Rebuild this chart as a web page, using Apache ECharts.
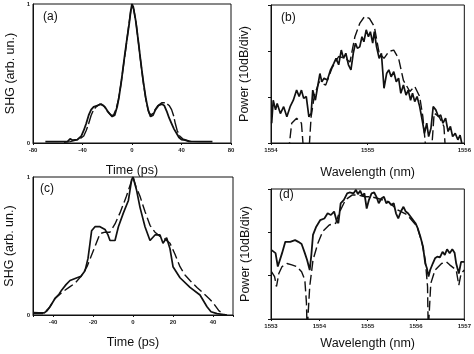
<!DOCTYPE html>
<html>
<head>
<meta charset="utf-8">
<script src="https://cdn.jsdelivr.net/npm/echarts@6/dist/echarts.min.js"></script>
<style>
html,body{margin:0;padding:0;background:#fff}
#main{width:474px;height:354px}
</style>
</head>
<body>
<div id="main"></div>
<script>
// panel (a): SHG autocorrelation, [time ps, SHG]
var aMeasured = [[-70,0.01],[-60,0.01],[-52,0.012],[-50,0.03],[-48,0.02],[-44,0.025],[-41,0.05],[-39,0.09],[-37,0.14],[-35,0.2],[-33,0.24],[-31,0.26],[-28,0.27],[-25,0.28],[-22,0.26],[-19,0.22],[-16,0.19],[-14,0.2],[-12,0.26],[-10.5,0.33],[-8.5,0.45],[-6.5,0.59],[-4.5,0.72],[-2.4,0.85],[-1,0.95],[0,1.0],[1,0.98],[3,0.88],[5,0.74],[7,0.59],[9,0.45],[11,0.33],[13,0.24],[15,0.19],[17,0.2],[19,0.24],[21.5,0.27],[24,0.28],[26,0.27],[28,0.23],[30,0.18],[32,0.14],[34,0.1],[36,0.07],[38,0.04],[40,0.025],[43,0.02],[46,0.012],[55,0.01],[65,0.01]];
var aCalc = [[-55,0.005],[-50,0.01],[-46,0.02],[-42,0.03],[-39,0.05],[-37,0.09],[-35,0.14],[-33,0.2],[-31,0.24],[-29,0.26],[-26,0.28],[-23,0.27],[-20,0.23],[-17,0.2],[-15,0.2],[-13,0.24],[-11,0.31],[-9,0.42],[-7,0.55],[-5,0.68],[-3,0.82],[-1,0.95],[0,0.99],[1.5,0.96],[3.5,0.85],[5.5,0.7],[7.5,0.55],[9.5,0.41],[11.5,0.3],[13.5,0.22],[15.5,0.2],[18,0.23],[21,0.27],[24,0.29],[27,0.29],[30,0.27],[32,0.24],[33.5,0.2],[35,0.14],[36.5,0.09],[38.5,0.05],[41,0.03],[44,0.02],[48,0.01]];

// panel (b): spectrum, [wavelength nm, power dB]
var bMeasured = [[1554.007,4.3],[1554.023,9.3],[1554.047,7.2],[1554.064,8.6],[1554.097,6.4],[1554.131,7.9],[1554.164,5.7],[1554.198,7.9],[1554.231,9.3],[1554.265,11.5],[1554.291,10.1],[1554.315,11.5],[1554.338,9.7],[1554.365,10.1],[1554.392,5.7],[1554.415,6.4],[1554.432,11.5],[1554.459,9.3],[1554.482,12.2],[1554.506,15.1],[1554.526,13.3],[1554.549,14.1],[1554.583,13.7],[1554.616,15.9],[1554.650,17.3],[1554.673,18.4],[1554.700,17.0],[1554.727,20.2],[1554.750,18.4],[1554.774,19.5],[1554.801,17.0],[1554.827,15.9],[1554.851,19.5],[1554.874,21.7],[1554.894,20.6],[1554.918,20.9],[1554.941,23.1],[1554.961,22.0],[1554.985,24.6],[1555.008,23.1],[1555.028,24.2],[1555.052,21.7],[1555.069,24.2],[1555.092,20.9],[1555.119,18.4],[1555.142,19.5],[1555.169,11.9],[1555.196,15.1],[1555.219,15.9],[1555.243,14.4],[1555.270,15.5],[1555.296,13.3],[1555.320,14.1],[1555.343,10.8],[1555.370,12.6],[1555.397,10.4],[1555.420,11.5],[1555.444,9.3],[1555.464,10.8],[1555.487,9.0],[1555.511,10.1],[1555.538,7.9],[1555.564,5.0],[1555.588,2.1],[1555.611,4.3],[1555.631,1.4],[1555.655,3.2],[1555.678,7.9],[1555.705,7.2],[1555.732,5.7],[1555.755,6.1],[1555.779,4.3],[1555.806,5.4],[1555.832,2.5],[1555.856,3.6],[1555.879,1.4],[1555.906,2.1],[1555.933,0.7],[1555.956,1.7],[1555.973,0]];
var bCalc = [[1554.181,-2],[1554.214,4.3],[1554.265,5.4],[1554.315,4.3],[1554.338,-2],[1554.392,-2],[1554.415,5.7],[1554.449,10.4],[1554.499,13.3],[1554.566,12.6],[1554.633,16.4],[1554.700,18.8],[1554.767,18.4],[1554.817,17.6],[1554.868,23.1],[1554.918,26.0],[1554.968,27.5],[1555.018,27.1],[1555.069,25.3],[1555.119,19.5],[1555.169,18.4],[1555.219,19.9],[1555.270,20.2],[1555.320,18.4],[1555.370,13.6],[1555.437,11.2],[1555.487,12.3],[1555.538,10.1],[1555.571,5.7],[1555.605,-2],[1555.660,-2],[1555.688,6.5],[1555.739,5.7],[1555.789,3.6],[1555.806,-2]];

// panel (c)
var cMeasured = [[-50,0.017],[-47,0.015],[-44.5,0.015],[-43,0.03],[-41.5,0.06],[-39,0.12],[-37,0.15],[-35.7,0.18],[-33.5,0.22],[-31.5,0.25],[-28,0.27],[-26,0.28],[-24,0.32],[-22.5,0.41],[-21.5,0.52],[-20.7,0.61],[-19,0.64],[-16.5,0.64],[-14,0.62],[-12.5,0.58],[-11.5,0.54],[-9,0.54],[-7.3,0.64],[-4.8,0.74],[-2.3,0.83],[-0.7,0.98],[0,1.0],[1.7,0.91],[3.5,0.78],[6,0.64],[8.5,0.54],[11,0.58],[13.5,0.58],[15,0.52],[16.8,0.56],[18.5,0.48],[20,0.35],[23.5,0.27],[28.5,0.2],[33.5,0.145],[37,0.06],[39,0.024],[42,0.01],[47,0]];
var cCalc = [[-50,0.01],[-45,0.01],[-42,0.05],[-39,0.12],[-35,0.17],[-32,0.2],[-29,0.23],[-26,0.28],[-23,0.35],[-20,0.46],[-16.5,0.59],[-14,0.6],[-11.5,0.6],[-9,0.66],[-6.5,0.74],[-3.3,0.86],[-1,0.96],[0,1.0],[1.5,0.93],[3.5,0.86],[6,0.75],[8.5,0.65],[11,0.6],[13.5,0.57],[16,0.55],[18.5,0.52],[21,0.44],[23.5,0.35],[26,0.29],[28.5,0.25],[32,0.2],[35,0.16],[38,0.12],[40,0.09],[43,0.03],[46,0]];

// panel (d)
var dMeasured = [[1553.013,15.9],[1553.094,15.2],[1553.141,12.1],[1553.182,12.5],[1553.229,15.2],[1553.296,17.8],[1553.397,17.8],[1553.498,18.2],[1553.566,17.8],[1553.633,17.3],[1553.700,15.2],[1553.747,13.6],[1553.801,11.3],[1553.835,14.8],[1553.869,19.4],[1553.936,21.3],[1554.017,22.8],[1554.104,23.2],[1554.172,24.4],[1554.239,24.0],[1554.306,24.8],[1554.354,22.8],[1554.394,22.1],[1554.441,26.7],[1554.508,27.5],[1554.576,29.0],[1554.623,29.2],[1554.663,29.6],[1554.710,29.0],[1554.758,29.8],[1554.798,28.8],[1554.845,29.6],[1554.892,28.4],[1554.933,29.0],[1554.980,25.5],[1555.027,27.5],[1555.081,29.0],[1555.135,29.2],[1555.182,28.2],[1555.229,26.7],[1555.283,27.8],[1555.337,28.2],[1555.384,26.7],[1555.431,27.1],[1555.485,26.3],[1555.539,26.7],[1555.586,24.4],[1555.633,23.2],[1555.687,24.8],[1555.741,25.9],[1555.788,24.8],[1555.835,24.4],[1555.889,23.6],[1555.943,22.8],[1555.990,22.1],[1556.037,20.9],[1556.091,19.0],[1556.145,16.7],[1556.192,12.8],[1556.226,11.7],[1556.259,9.8],[1556.293,11.3],[1556.347,12.8],[1556.394,14.0],[1556.441,14.4],[1556.495,14.2],[1556.549,15.5],[1556.596,14.8],[1556.643,16.1],[1556.697,15.2],[1556.751,16.1],[1556.798,15.3],[1556.832,12.8],[1556.886,10.5],[1556.933,13.2],[1557.000,13.2]];
var dCalc = [[1553.013,10.9],[1553.074,9.8],[1553.114,7.5],[1553.162,10.5],[1553.229,12.1],[1553.330,12.8],[1553.431,12.5],[1553.532,12.1],[1553.633,10.9],[1553.700,9.0],[1553.734,3.6],[1553.747,-3],[1553.774,-3],[1553.801,7.5],[1553.869,13.6],[1553.970,17.5],[1554.071,20.2],[1554.205,21.7],[1554.340,22.1],[1554.407,24.4],[1554.542,27.5],[1554.677,28.6],[1554.811,28.6],[1554.946,28.2],[1555.081,28.2],[1555.215,27.8],[1555.418,27.1],[1555.620,25.2],[1555.822,24.0],[1556.024,21.3],[1556.125,17.5],[1556.192,13.6],[1556.239,7.5],[1556.253,-3],[1556.279,-3],[1556.306,8.2],[1556.394,11.3],[1556.529,12.8],[1556.630,13.2],[1556.697,12.5],[1556.832,11.3],[1556.886,7.8],[1556.933,10.5],[1557.000,11.3]];

var ink = '#111';
var labelFont = { fontSize: 6, fontWeight: 'bold', color: '#222', fontFamily: 'Liberation Sans' };
var nameFont = { fontSize: 12.5, color: '#111', fontFamily: 'Liberation Sans' };

function plain(v) { return String(v); }

function xAxis(grid, min, max, interval, name, gap, fmt) {
  var ax = {
    type: 'value', gridIndex: grid, min: min, max: max,
    name: name, nameLocation: 'middle', nameGap: gap, nameTextStyle: nameFont,
    axisLine: { onZero: false, lineStyle: { color: ink, width: 1 } },
    axisTick: { show: true, inside: false, length: 2, lineStyle: { color: ink } },
    axisLabel: Object.assign({ margin: 4, formatter: fmt || plain }, labelFont),
    splitLine: { show: false }
  };
  if (interval) ax.interval = interval;
  return ax;
}
function yAxis(grid, min, max, interval, name, gap, showLabel) {
  return {
    type: 'value', gridIndex: grid, min: min, max: max, interval: interval,
    name: name, nameLocation: 'middle', nameGap: gap, nameTextStyle: nameFont,
    axisLine: { onZero: false, lineStyle: { color: ink, width: 1 } },
    axisTick: { show: !showLabel, inside: false, length: 3, lineStyle: { color: ink } },
    axisLabel: Object.assign({ show: showLabel, margin: 3, formatter: plain }, labelFont),
    splitLine: { show: false }
  };
}
function line(idx, data, dashed, width) {
  return {
    type: 'line', xAxisIndex: idx, yAxisIndex: idx, data: data,
    showSymbol: false, clip: true, animation: false,
    lineStyle: { color: ink, width: width, type: dashed ? dashed : 'solid' }
  };
}

var chart = echarts.init(document.getElementById('main'), null, { renderer: 'canvas' });
var option = {
  backgroundColor: '#fff',
  animation: false,
  grid: [
    { left: 33, top: 4, width: 198, height: 139, show: true, borderColor: ink, borderWidth: 1 },
    { left: 271, top: 5, width: 199, height: 138, show: true, borderColor: ink, borderWidth: 1 },
    { left: 33, top: 177, width: 200, height: 138, show: true, borderColor: ink, borderWidth: 1 },
    { left: 271, top: 189, width: 198, height: 130, show: true, borderColor: ink, borderWidth: 1 }
  ],
  xAxis: [
    xAxis(0, -80, 80, 40, 'Time (ps)', 21),
    xAxis(1, 1554, 1556, 1, 'Wavelength (nm)', 23),
    xAxis(2, -50, 50, null, 'Time (ps)', 21, function (v) { return v % 20 === 0 ? String(v) : ''; }),
    xAxis(3, 1553, 1557, 1, 'Wavelength (nm)', 18)
  ],
  yAxis: [
    yAxis(0, 0, 1, 1, 'SHG (arb. un.)', 16, true),
    yAxis(1, 0, 30, 10, 'Power (10dB/div)', 20, false),
    yAxis(2, 0, 1, 1, 'SHG (arb. un.)', 17, true),
    yAxis(3, 0, 30, 10, 'Power (10dB/div)', 19, false)
  ],
  series: [
    line(0, aMeasured, null, 1.8),
    line(0, aCalc, [14, 3], 1.4),
    line(1, bMeasured, null, 1.7),
    line(1, bCalc, [10, 4], 1.4),
    line(2, cMeasured, null, 1.7),
    line(2, cCalc, [10, 4], 1.4),
    line(3, dMeasured, null, 1.8),
    line(3, dCalc, [10, 4], 1.4)
  ],
  graphic: [
    { type: 'text', left: 43, top: 11, style: { text: '(a)', fontSize: 12, fontFamily: 'Liberation Sans', fill: ink } },
    { type: 'text', left: 281, top: 12, style: { text: '(b)', fontSize: 12, fontFamily: 'Liberation Sans', fill: ink } },
    { type: 'text', left: 40, top: 183, style: { text: '(c)', fontSize: 12, fontFamily: 'Liberation Sans', fill: ink } },
    { type: 'text', left: 279, top: 189, style: { text: '(d)', fontSize: 12, fontFamily: 'Liberation Sans', fill: ink } }
  ]
};
chart.setOption(option);
</script>
</body>
</html>
